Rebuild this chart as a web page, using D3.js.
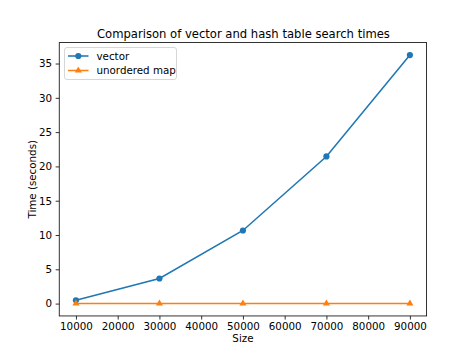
<!DOCTYPE html>
<html><head><meta charset="utf-8">
<script src="https://cdn.jsdelivr.net/npm/d3@7"></script>
<style>body{margin:0;background:#fff}svg{display:block;font-family:"DejaVu Sans",sans-serif}</style>
</head><body>
<svg id="c" width="474" height="355"></svg>
<script>
const sizes = [10000, 30000, 50000, 70000, 90000];
const vectorTimes = [0.48, 3.66, 10.66, 21.45, 36.24];
const mapTimes = [0.01, 0.01, 0.01, 0.01, 0.01];
const xTicks = [10000, 20000, 30000, 40000, 50000, 60000, 70000, 80000, 90000];
const yTicks = [0, 5, 10, 15, 20, 25, 30, 35];
const title = "Comparison of vector and hash table search times";

const W = 474, H = 355;
const L = 59.25, R = 426.6, T = 42.6, B = 315.95;
const svg = d3.select("#c");
const xs = d3.scaleLinear().domain([6000, 94000]).range([L, R]);
const ymin = 0.01, ymax = 36.24, sp = ymax - ymin;
const ys = d3.scaleLinear().domain([ymin - 0.05*sp, ymax + 0.05*sp]).range([B, T]);

const fs = 10.3;
const xa = svg.append("g").attr("transform", `translate(0,${B})`)
  .call(d3.axisBottom(xs).tickValues(xTicks).tickFormat(d3.format("d")).tickSize(3.6).tickPadding(3.6));
const ya = svg.append("g").attr("transform", `translate(${L},0)`)
  .call(d3.axisLeft(ys).tickValues(yTicks).tickFormat(d3.format("d")).tickSize(3.6).tickPadding(3.6));
[xa, ya].forEach(a => {
  a.select(".domain").remove();
  a.selectAll("line").attr("stroke", "#000").attr("stroke-width", 0.8);
  a.selectAll("text").attr("font-size", fs).attr("fill", "#000").attr("font-family", "DejaVu Sans");
});

const colors = ["#1f77b4", "#ff7f0e"];
const line = d3.line().x((d, i) => xs(sizes[i])).y(d => ys(d));
svg.append("path").attr("d", line(vectorTimes)).attr("fill", "none").attr("stroke", colors[0]).attr("stroke-width", 1.54);
svg.append("path").attr("d", line(mapTimes)).attr("fill", "none").attr("stroke", colors[1]).attr("stroke-width", 1.54);
svg.selectAll(".pv").data(vectorTimes).join("circle").attr("cx", (d, i) => xs(sizes[i])).attr("cy", d => ys(d)).attr("r", 3.1).attr("fill", colors[0]);
const tri = d3.symbol().type(d3.symbolTriangle).size(22);
svg.selectAll(".pm").data(mapTimes).join("path").attr("d", tri).attr("transform", (d, i) => `translate(${xs(sizes[i])},${ys(d)})`).attr("fill", colors[1]);

svg.append("rect").attr("x", L).attr("y", T).attr("width", R - L).attr("height", B - T)
  .attr("fill", "none").attr("stroke", "#000").attr("stroke-width", 0.8);

svg.append("text").attr("x", (L + R) / 2 + 0.5).attr("y", 37.8).attr("text-anchor", "middle").attr("font-size", 11.6).text(title);
svg.append("text").attr("x", (L + R) / 2).attr("y", 342).attr("text-anchor", "middle").attr("font-size", fs).text("Size");
svg.append("text").attr("transform", `translate(36,${(T + B) / 2}) rotate(-90)`).attr("text-anchor", "middle").attr("font-size", fs).text("Time (seconds)");

// legend
const lg = svg.append("g");
lg.append("rect").attr("x", 64.5).attr("y", 47.5).attr("width", 112).attr("height", 32).attr("rx", 2.5)
  .attr("fill", "#fff").attr("fill-opacity", 0.8).attr("stroke", "#ccc").attr("stroke-width", 0.8);
const names = ["vector", "unordered map"];
names.forEach((n, i) => {
  const yy = 56 + i * 14.5;
  lg.append("line").attr("x1", 68).attr("x2", 88.5).attr("y1", yy).attr("y2", yy).attr("stroke", colors[i]).attr("stroke-width", 1.54);
  if (i === 0) lg.append("circle").attr("cx", 78.3).attr("cy", yy).attr("r", 3.1).attr("fill", colors[0]);
  else lg.append("path").attr("d", tri).attr("transform", `translate(78.3,${yy})`).attr("fill", colors[1]);
  lg.append("text").attr("x", 96.5).attr("y", yy + 3.7).attr("font-size", fs).text(n);
});
</script>
</body></html>
